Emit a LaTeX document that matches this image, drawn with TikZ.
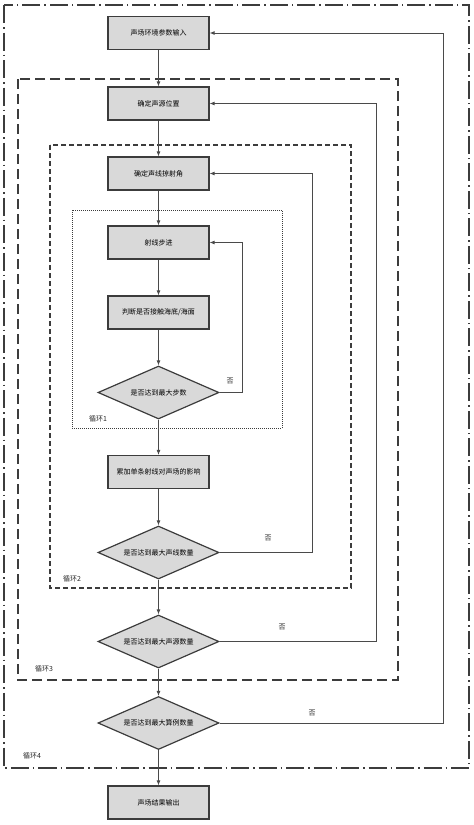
\documentclass[tikz,border=0pt]{standalone}
\usepackage{fontspec}
\newfontfamily\cjk{Noto Sans CJK SC}
\usepackage{tikz}
\usetikzlibrary{arrows.meta,shapes.geometric}
\definecolor{boxfill}{HTML}{D9D9D9}
\definecolor{edge}{HTML}{3C3C3C}
\definecolor{wire}{HTML}{4A4A4A}
\tikzset{
  stepbox/.style={rectangle, draw=edge, fill=boxfill, line width=1.2pt,
    minimum width=101pt, minimum height=33pt, inner sep=0pt, font=\cjk\fontsize{7}{8}\selectfont},
  check/.style={diamond, draw=edge, fill=boxfill, line width=1.2pt, aspect=2.28,
    minimum width=121pt, minimum height=53pt, inner sep=0pt, font=\cjk\fontsize{7}{8}\selectfont},
  arr/.style={draw=wire, line width=0.9pt, -{Latex[length=5pt,width=4pt]}},
  lab/.style={text=black!85, font=\cjk\fontsize{7}{8}\selectfont},
  loopfour/.style={draw=edge, line width=1.1pt, dash pattern=on 18pt off 4pt on 1.5pt off 4pt},
  loopthree/.style={draw=edge, line width=1.1pt, dash pattern=on 10pt off 5pt},
  looptwo/.style={draw=edge, line width=1.1pt, dash pattern=on 5pt off 3pt},
  loopone/.style={draw=edge, line width=0.7pt, dash pattern=on 1pt off 1pt},
}
\begin{document}
\begin{tikzpicture}[x=1pt,y=-1pt]
  \useasboundingbox (0,0) rectangle (474,825);

  % loop frames
  \draw[loopfour]  (4,5) rectangle (469,768);
  \draw[loopthree] (18,79) rectangle (398,680);
  \draw[looptwo]   (50,145) rectangle (351,588);
  \draw[loopone]   (72,210) rectangle (282,428);

  % steps
  \node[stepbox] (input)  at (158.5,33)    {声场环境参数输入};
  \node[stepbox] (source) at (158.5,103.5) {确定声源位置};
  \node[stepbox] (angle)  at (158.5,173.5) {确定声线掠射角};
  \node[stepbox] (march)  at (158.5,242.5) {射线步进};
  \node[stepbox] (touch)  at (158.5,312.5) {判断是否接触海底/海面};
  \node[check]   (maxstep) at (158.5,392.5) {是否达到最大步数};
  \node[stepbox] (accum)  at (158.5,472)   {累加单条射线对声场的影响};
  \node[check]   (maxray) at (158.5,552.5) {是否达到最大声线数量};
  \node[check]   (maxsrc) at (158.5,641.5) {是否达到最大声源数量};
  \node[check]   (maxcase) at (158.5,723)  {是否达到最大算例数量};
  \node[stepbox] (output) at (158.5,802.5) {声场结果输出};

  % main flow
  \draw[arr] (input) -- (source);
  \draw[arr] (source) -- (angle);
  \draw[arr] (angle) -- (march);
  \draw[arr] (march) -- (touch);
  \draw[arr] (touch) -- (maxstep);
  \draw[arr] (maxstep) -- (accum);
  \draw[arr] (accum) -- (maxray);
  \draw[arr] (maxray) -- (maxsrc);
  \draw[arr] (maxsrc) -- (maxcase);
  \draw[arr] (maxcase) -- (output);

  % feedback loops
  \draw[arr] (maxstep.east) -- ++(23,0) |- (march.east);
  \draw[arr] (maxray.east) -- ++(93,0) |- (angle.east);
  \draw[arr] (maxsrc.east) -- ++(157,0) |- (source.east);
  \draw[arr] (maxcase.east) -- ++(224,0) |- (input.east);

  % labels
  \node[lab] (no1) at (230,381) {否};
  \node[lab] (no2) at (268,538) {否};
  \node[lab] (no3) at (282,627) {否};
  \node[lab] (no4) at (312,713) {否};
  \node[lab] (l1) at (98,419) {循环1};
  \node[lab] (l2) at (72,579) {循环2};
  \node[lab] (l3) at (44,669) {循环3};
  \node[lab] (l4) at (32,756) {循环4};
\end{tikzpicture}
\end{document}
